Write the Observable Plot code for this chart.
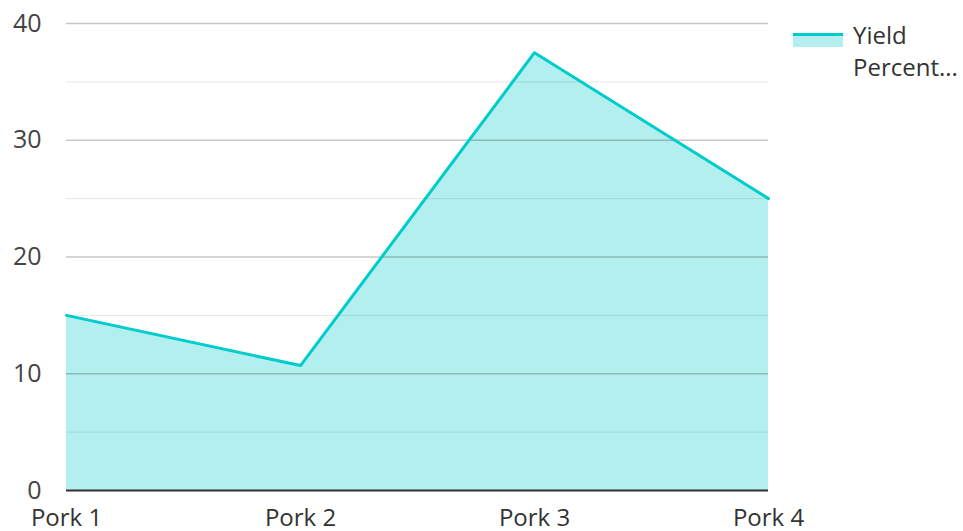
<!DOCTYPE html>
<html>
<head>
<meta charset="utf-8">
<script src="https://cdn.jsdelivr.net/npm/d3@7"></script>
<script src="https://cdn.jsdelivr.net/npm/@observablehq/plot@0.6"></script>
<style>
  html, body { margin: 0; padding: 0; background: #fff; }
  #wrap { position: relative; width: 963px; height: 531px; overflow: hidden; font-family: "Open Sans", sans-serif; }
  #legend { position: absolute; left: 793px; top: 19px; display: flex; align-items: flex-start; }
  #legend .sw { width: 50px; height: 14px; margin-top: 14px; position: relative; background: #b2efee; }
  #legend .sw::before { content: ""; position: absolute; left: 0; right: 0; top: 0; height: 3px; background: #00cccc; }
  #legend .lab { margin-left: 10px; font-size: 24px; line-height: 32px; color: #333; }
</style>
</head>
<body>
<div id="wrap">
  <div id="chart"></div>
  <div id="legend"><div class="sw"></div><div class="lab">Yield<br>Percent...</div></div>
</div>
<script>
const categories = ["Pork 1", "Pork 2", "Pork 3", "Pork 4"];
const yieldPercent = [15, 10.7, 37.5, 25];
const majorTicks = [10, 20, 30, 40];
const minorTicks = [5, 15, 25, 35];
const yTickLabels = [0, 10, 20, 30, 40];

const data = categories.map((c, i) => ({cat: c, v: yieldPercent[i]}));

const chart = Plot.plot({
  width: 963,
  height: 531,
  marginLeft: 66,
  marginRight: 195,
  marginTop: 23,
  marginBottom: 41,
  style: {fontFamily: "Open Sans, sans-serif", fontSize: "24px", color: "#444", background: "transparent", overflow: "visible"},
  x: {type: "point", domain: categories, padding: 0},
  y: {domain: [0, 40]},
  marks: [
    Plot.areaY(data, {x: "cat", y: "v", fill: "#b2efee", curve: "linear"}),
    Plot.ruleY(minorTicks, {stroke: "#000", strokeOpacity: 0.1, strokeWidth: 1}),
    Plot.ruleY(majorTicks, {stroke: "#000", strokeOpacity: 0.22, strokeWidth: 1.5}),
    Plot.lineY(data, {x: "cat", y: "v", stroke: "#00cccc", strokeWidth: 3, curve: "linear"}),
    Plot.ruleY([0], {stroke: "#333", strokeWidth: 2}),
    Plot.axisY({ticks: yTickLabels, tickSize: 0, tickPadding: 25, fontSize: 25, fill: "#444", label: null}),
    Plot.axisX({tickSize: 0, tickPadding: 18, fontSize: 24, fill: "#333", label: null})
  ]
});
document.getElementById("chart").appendChild(chart);
</script>
</body>
</html>
